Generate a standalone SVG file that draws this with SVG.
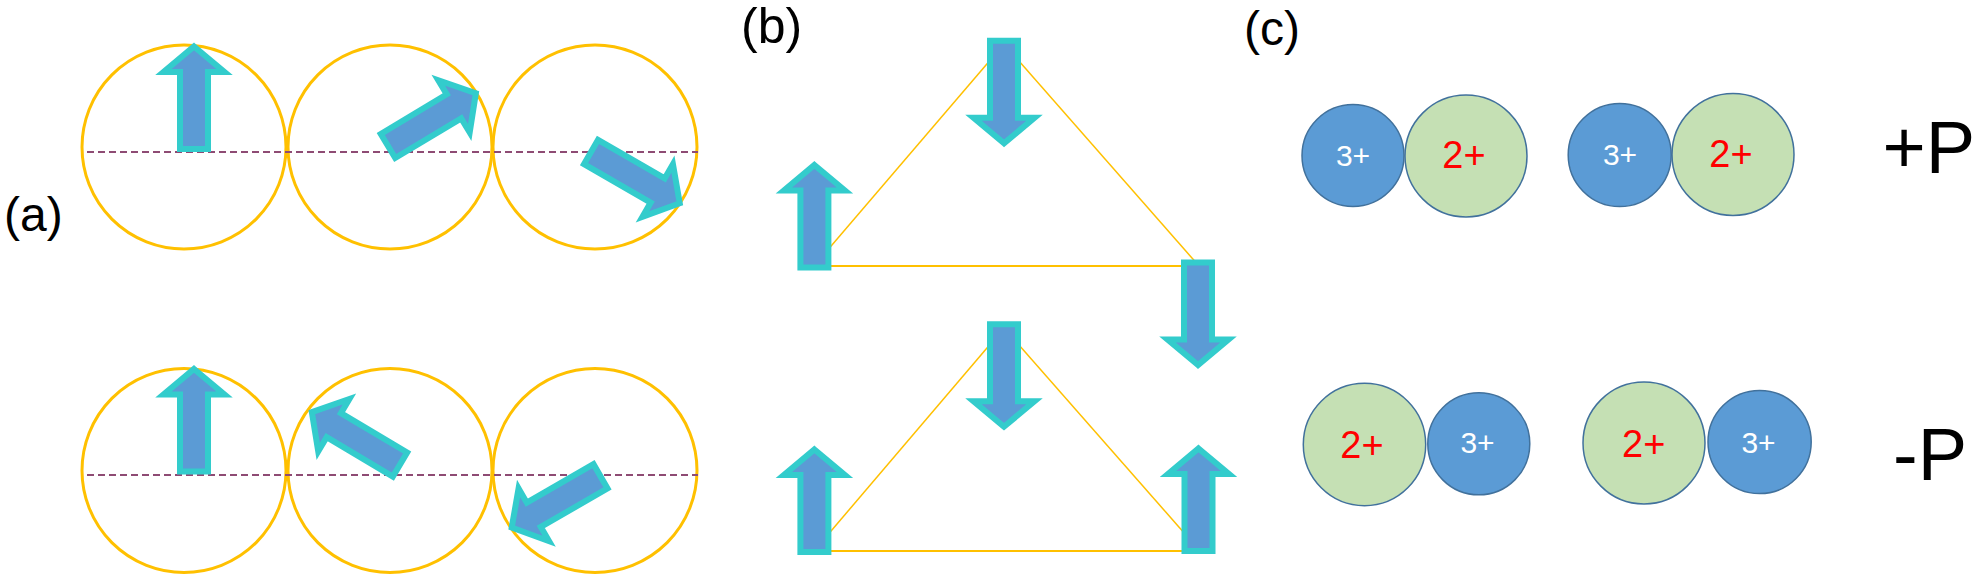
<svg xmlns="http://www.w3.org/2000/svg" xmlns:xlink="http://www.w3.org/1999/xlink" width="1979" height="580" viewBox="0 0 1979 580">
<style>
.spin{fill:#5B9BD5;stroke:#33CCCC;stroke-width:6;stroke-linejoin:miter}
.orbit{fill:none;stroke:#FFC000;stroke-width:3}
.axis{fill:none;stroke:#8E4B74;stroke-width:2;stroke-dasharray:7,4}
.edge{fill:none;stroke:#FFC000;stroke-width:1.5}
.base{fill:none;stroke:#FFC000;stroke-width:2.2}
.ion3{fill:#5B9BD5;stroke:#41719C;stroke-width:1.5}
.ion2{fill:#C5E0B4;stroke:#41719C;stroke-width:1.5}
.lbl{font-family:"Liberation Sans",Arial,sans-serif;fill:#000}
.t3{font-family:"Liberation Sans",Arial,sans-serif;fill:#FFFFFF;font-size:30px;text-anchor:middle}
.t2{font-family:"Liberation Sans",Arial,sans-serif;fill:#FF0000;font-size:38px;text-anchor:middle}
</style>
<defs>
<path id="arrow" class="spin" d="M0,-102.5 L30.5,-77 L14,-77 L14,0 L-14,0 L-14,-77 L-30.5,-77 Z"/>
</defs>
<rect x="0" y="0" width="1979" height="580" fill="#FFFFFF"/>

<!-- labels -->
<text id="label-a" class="lbl" x="4" y="231" font-size="48">(a)</text>
<text id="label-b" class="lbl" x="741" y="43" font-size="50">(b)</text>
<text id="label-c" class="lbl" x="1244" y="45" font-size="48">(c)</text>

<!-- panel (a) top row -->
<g id="a-top">
  <circle class="orbit" cx="184" cy="147" r="102"/>
  <circle class="orbit" cx="390" cy="147" r="102"/>
  <circle class="orbit" cx="595" cy="147" r="102"/>
  <line class="axis" x1="87" y1="152" x2="698" y2="152"/>
  <use href="#arrow" xlink:href="#arrow" transform="translate(194,149)"/>
  <use href="#arrow" xlink:href="#arrow" transform="translate(388,146) rotate(59)"/>
  <use href="#arrow" xlink:href="#arrow" transform="translate(591,152) rotate(120)"/>
</g>

<!-- panel (a) bottom row -->
<g id="a-bottom">
  <circle class="orbit" cx="184" cy="470.5" r="102"/>
  <circle class="orbit" cx="390" cy="470.5" r="102"/>
  <circle class="orbit" cx="595" cy="470.5" r="102"/>
  <line class="axis" x1="87" y1="475" x2="698" y2="475"/>
  <use href="#arrow" xlink:href="#arrow" transform="translate(194,471.5)"/>
  <use href="#arrow" xlink:href="#arrow" transform="translate(400,464.5) rotate(-59.3)"/>
  <use href="#arrow" xlink:href="#arrow" transform="translate(600.5,476.3) rotate(-120)"/>
</g>

<!-- panel (b) connectors -->
<g id="connectors">
  <line class="edge" x1="814" y1="266" x2="1004" y2="44"/>
  <line class="edge" x1="1004" y1="44" x2="1199" y2="266"/>
  <line class="base" x1="814" y1="266" x2="1199" y2="266"/>
  <line class="edge" x1="814" y1="551" x2="1004" y2="328"/>
  <line class="edge" x1="1004" y1="328" x2="1200" y2="551"/>
  <line class="base" x1="814" y1="551" x2="1200" y2="551"/>
</g>

<!-- panel (b) spins -->
<g id="b-top-left"><use href="#arrow" xlink:href="#arrow" transform="translate(814.4,267.5)"/></g>
<g id="b-top-apex"><use href="#arrow" xlink:href="#arrow" transform="translate(1004,40.8) rotate(180)"/></g>
<g id="b-top-right"><use href="#arrow" xlink:href="#arrow" transform="translate(1198,262.5) rotate(180)"/></g>
<g id="b-bot-left"><use href="#arrow" xlink:href="#arrow" transform="translate(814.4,552)"/></g>
<g id="b-bot-apex"><use href="#arrow" xlink:href="#arrow" transform="translate(1004,324.2) rotate(180)"/></g>
<g id="b-bot-right"><use href="#arrow" xlink:href="#arrow" transform="translate(1198.5,551)"/></g>

<!-- panel (c) +P -->
<g id="c-top-pair1">
  <circle class="ion3" cx="1353" cy="155.5" r="51"/>
  <circle class="ion2" cx="1466" cy="156" r="61"/>
  <text class="t3" x="1353" y="165.5">3+</text>
  <text class="t2" x="1464" y="168.3">2+</text>
</g>
<g id="c-top-pair2">
  <circle class="ion3" cx="1619.7" cy="155" r="51.5"/>
  <circle class="ion2" cx="1733" cy="154.5" r="61"/>
  <text class="t3" x="1620" y="165">3+</text>
  <text class="t2" x="1731" y="167">2+</text>
</g>
<text id="label-plusP" class="lbl" x="1975" y="173" font-size="74" text-anchor="end">+P</text>

<!-- panel (c) -P -->
<g id="c-bot-pair1">
  <circle class="ion2" cx="1364.5" cy="444.5" r="61.2"/>
  <circle class="ion3" cx="1478.8" cy="443.8" r="51"/>
  <text class="t2" x="1362" y="458.3">2+</text>
  <text class="t3" x="1477.5" y="452.7">3+</text>
</g>
<g id="c-bot-pair2">
  <circle class="ion2" cx="1644" cy="443" r="61"/>
  <circle class="ion3" cx="1759.6" cy="442" r="51.6"/>
  <text class="t2" x="1643.7" y="456.7">2+</text>
  <text class="t3" x="1758.5" y="452.7">3+</text>
</g>
<text id="label-minusP" class="lbl" x="1967" y="480" font-size="74" text-anchor="end">-P</text>
</svg>
